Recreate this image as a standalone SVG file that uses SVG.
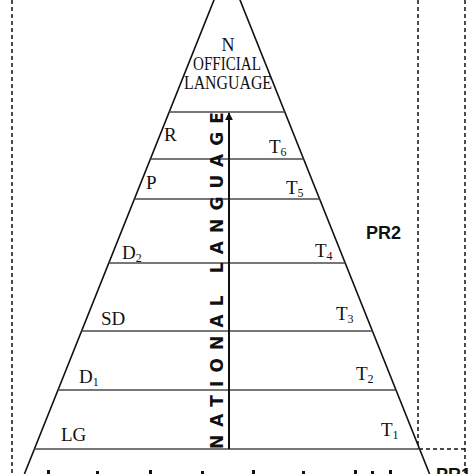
<svg xmlns="http://www.w3.org/2000/svg" width="474" height="474" viewBox="0 0 474 474">
<style>
.lbl{font-family:"Liberation Serif","Times New Roman",serif;font-size:19px;fill:#111}
.top{font-family:"Liberation Serif","Times New Roman",serif;font-size:18px;fill:#111}
.sub{font-size:12px}
.band{stroke:#4a4a4a;stroke-width:1.6;fill:none}
.dash{stroke:#111;stroke-width:1.5;stroke-dasharray:4 3;fill:none}
.bold{font-family:"Liberation Sans",Arial,sans-serif;font-weight:bold;font-size:18px;fill:#111}
</style>
<defs>
<marker id="ah" viewBox="0 0 10 10" refX="9" refY="5" markerWidth="4" markerHeight="4" orient="auto"><path d="M0,0 L10,5 L0,10 z" fill="#111"/></marker>
</defs>
<rect width="474" height="474" fill="#fff"/>
<g id="frames">
<line class="dash" x1="12" y1="0" x2="12" y2="474"/>
<line class="dash" x1="418" y1="0" x2="418" y2="449"/>
<line class="dash" x1="419" y1="449" x2="465" y2="449"/>
<line class="dash" x1="465" y1="0" x2="465" y2="474"/>
</g>
<g id="pyramid">
<path d="M24.4,474 L227,-32.5 L429.6,474" fill="none" stroke="#111" stroke-width="1.6"/>
</g>
<g id="bands">
<line class="band" x1="169.2" y1="112" x2="284.8" y2="112"/>
<line class="band" x1="150.4" y1="159" x2="303.6" y2="159"/>
<line class="band" x1="134.4" y1="199" x2="319.6" y2="199"/>
<line class="band" x1="108.8" y1="263" x2="345.2" y2="263"/>
<line class="band" x1="81.6" y1="331" x2="372.4" y2="331"/>
<line class="band" x1="58" y1="390" x2="396" y2="390"/>
<line class="band" x1="34.4" y1="449" x2="419.6" y2="449"/>
</g>
<g id="connectors">
<line x1="229" y1="449" x2="229" y2="113" stroke="#111" stroke-width="2" marker-end="url(#ah)"/>
</g>
<g id="top-node">
<text class="top" x="228" y="51" text-anchor="middle">N</text>
<text class="top" x="227" y="70" text-anchor="middle" textLength="68" lengthAdjust="spacingAndGlyphs">OFFICIAL</text>
<text class="top" x="228" y="89" text-anchor="middle" textLength="88" lengthAdjust="spacingAndGlyphs">LANGUAGE</text>
</g>
<g id="left-labels">
<text class="lbl" x="164" y="141">R</text>
<text class="lbl" x="146" y="189">P</text>
<text class="lbl" x="122" y="259">D<tspan class="sub" dy="3">2</tspan></text>
<text class="lbl" x="101" y="325">SD</text>
<text class="lbl" x="79" y="383">D<tspan class="sub" dy="3">1</tspan></text>
<text class="lbl" x="61" y="441">LG</text>
</g>
<g id="right-labels">
<text class="lbl" x="269" y="153">T<tspan class="sub" dy="3">6</tspan></text>
<text class="lbl" x="286" y="194">T<tspan class="sub" dy="3">5</tspan></text>
<text class="lbl" x="315" y="257">T<tspan class="sub" dy="3">4</tspan></text>
<text class="lbl" x="336" y="320">T<tspan class="sub" dy="3">3</tspan></text>
<text class="lbl" x="356" y="380">T<tspan class="sub" dy="3">2</tspan></text>
<text class="lbl" x="381" y="436">T<tspan class="sub" dy="3">1</tspan></text>
</g>
<g id="national-language">
<text transform="translate(223,449) rotate(-90)" x="0" y="0" font-family="DejaVu Sans,sans-serif" font-weight="bold" font-size="17" fill="#111" textLength="337" lengthAdjust="spacing">NATIONAL LANGUAGE</text>
</g>
<g id="pr2">
<text class="bold" x="366" y="239">PR2</text>
</g>
<g id="pr1">
<text class="bold" x="436" y="481">PR1</text>
</g>
<g id="bottom-marks" fill="#111">
<rect x="47" y="470" width="3" height="4"/>
<rect x="96" y="471" width="3" height="3"/>
<rect x="149" y="470" width="3" height="4"/>
<rect x="201" y="471" width="3" height="3"/>
<rect x="252" y="470" width="3" height="4"/>
<rect x="302" y="471" width="3" height="3"/>
<rect x="354" y="470" width="3" height="4"/>
<rect x="371" y="471" width="3" height="3"/>
<rect x="389" y="470" width="3" height="4"/>
</g>
</svg>
